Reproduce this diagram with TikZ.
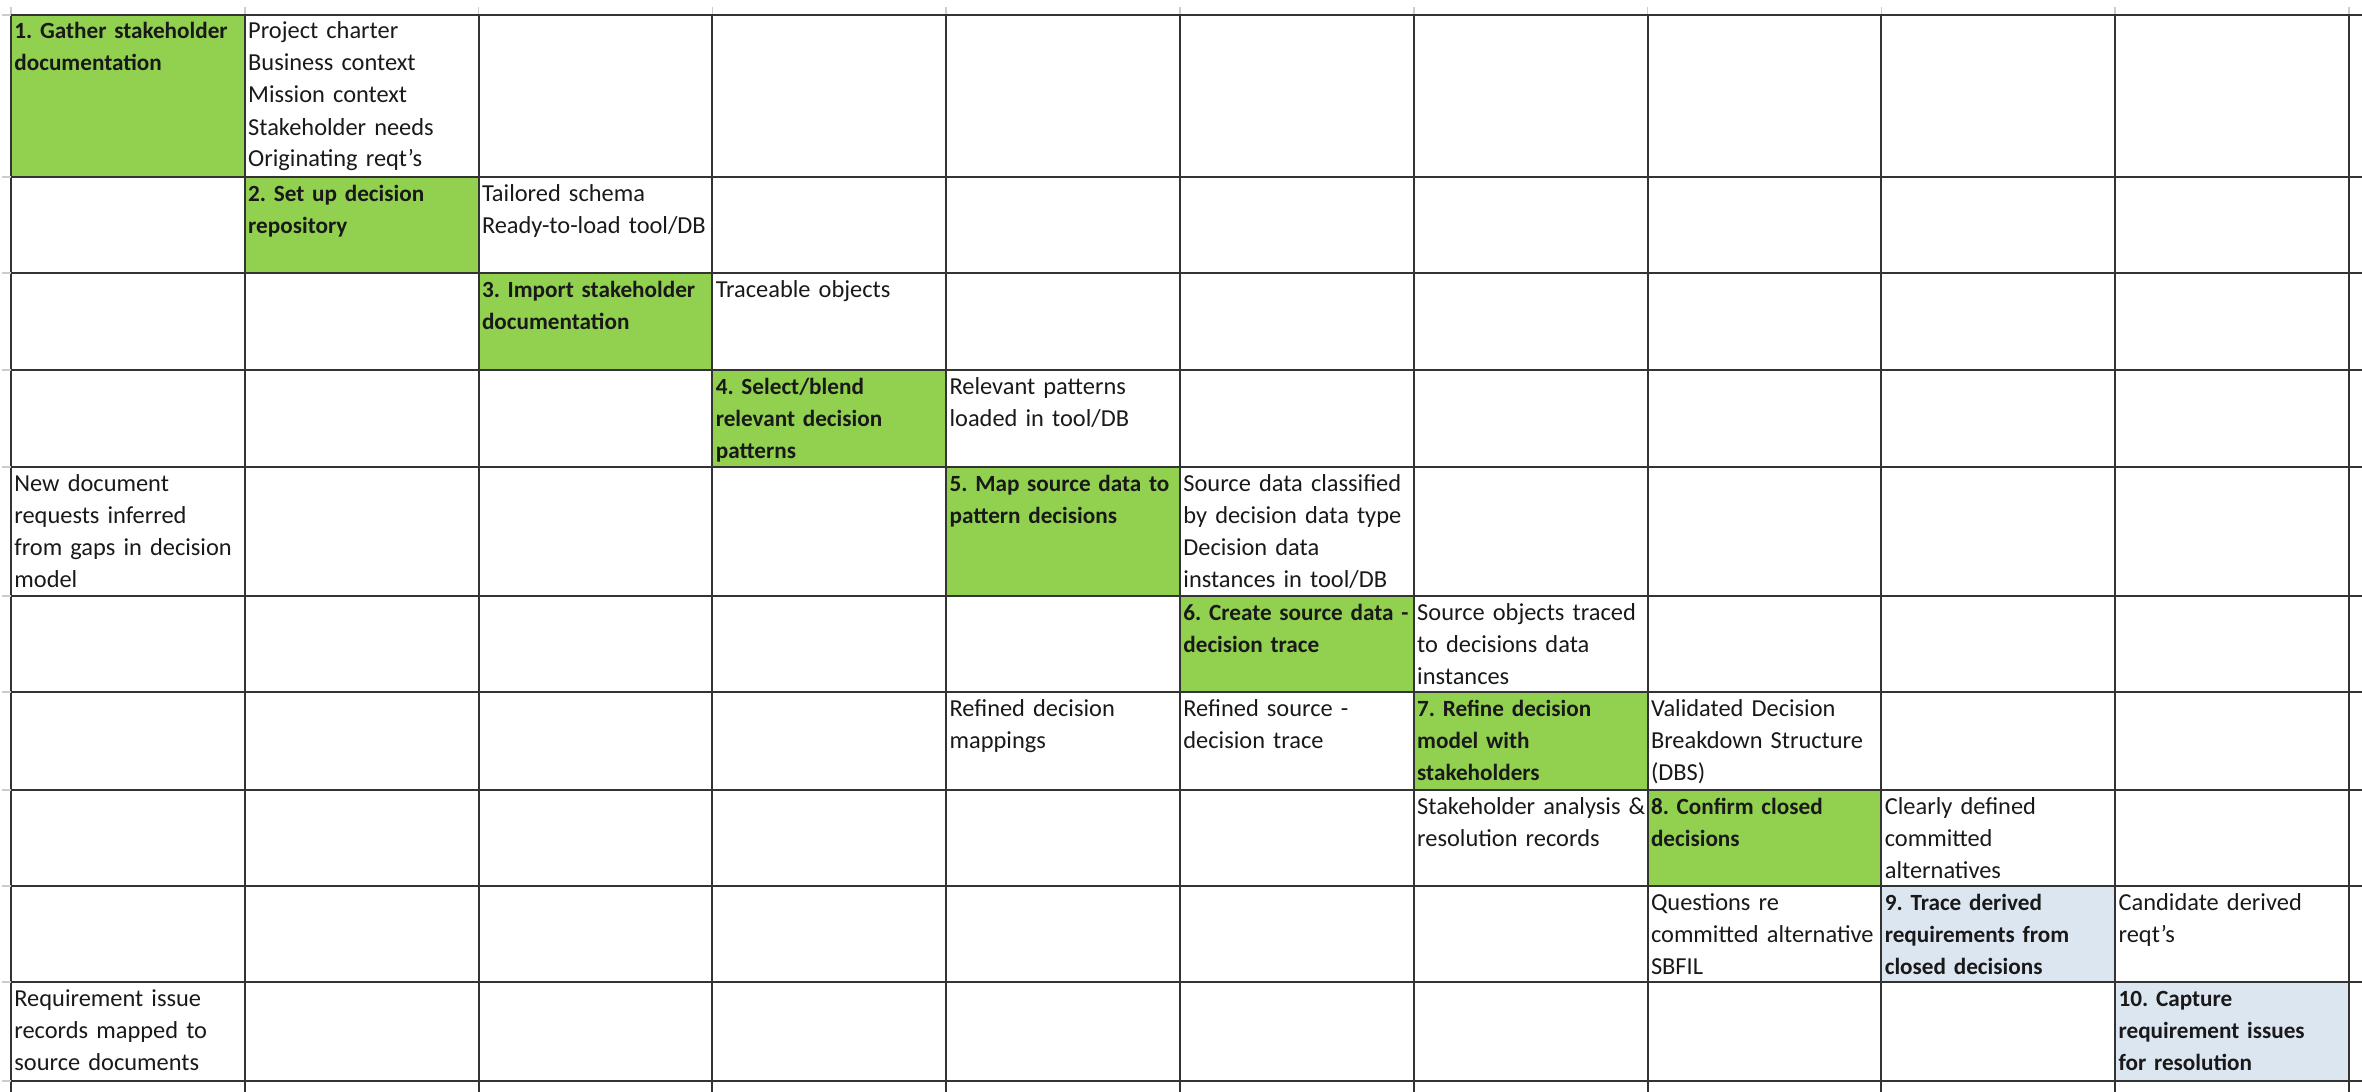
\documentclass[tikz,border=0pt]{standalone}
\usepackage{fontspec}
\setmainfont{Carlito}
\frenchspacing
\definecolor{stepgreen}{HTML}{92D050}
\definecolor{stepblue}{HTML}{DCE6F1}

\begin{document}
\begin{tikzpicture}[x=0.5pt,y=-0.5pt,
  gridline/.style={draw=black!80,line width=1pt},
  stub/.style={draw=black!20,line width=0.8pt},
  celltext/.style={anchor=base west,inner sep=0pt,xshift=1.5pt,yshift=-12pt,
    text width=130pt,align=left,text=black!90,font=\fontsize{12.2}{16}\selectfont},
  task/.style={celltext,font=\fontsize{11.6}{16}\selectfont\bfseries},
  result/.style={celltext}]
  \useasboundingbox (0,0) rectangle (2362,1092);
  % grid corners g<col>-<row>
  \foreach \c [evaluate=\c as \xc using {11+233.8*(\c-1)}] in {1,...,11}
    \foreach \yr [count=\r] in {15,177,273,370,467,596,692,790,886,982,1081}
      \coordinate (g\c-\r) at (\xc,\yr);
  % step cells on the diagonal
  \foreach \k [evaluate=\k as \n using int(\k+1)] in {1,...,8}
    \fill[stepgreen] (g\k-\k) rectangle (g\n-\n);
  \foreach \k [evaluate=\k as \n using int(\k+1)] in {9,10}
    \fill[stepblue] (g\k-\k) rectangle (g\n-\n);
  % sheet lines
  \foreach \c in {1,...,11} {
    \draw[stub] (g\c-1) -- ++(0,-8);
    \draw[gridline] (g\c-1) -- (g\c-11) -- ++(0,11);
  }
  \foreach \r in {1,...,11} {
    \draw[stub] (g1-\r) -- ++(-9,0);
    \draw[gridline] (g1-\r) -- (g11-\r) -- ++(14,0);
  }

  \node[task]   (gather)    at (g1-1) {1. Gather stakeholder\\documentation};
  \node[result] (charter)   at (g2-1) {Project charter\\Business context\\Mission context\\Stakeholder needs\\Originating reqt's};
  \node[task]   (setup)     at (g2-2) {2. Set up decision\\repository};
  \node[result] (schema)    at (g3-2) {Tailored schema\\Ready-to-load tool/DB};
  \node[task]   (import)    at (g3-3) {3. Import stakeholder\\documentation};
  \node[result] (traceable) at (g4-3) {Traceable objects};
  \node[task]   (select)    at (g4-4) {4. Select/blend\\relevant decision\\patterns};
  \node[result] (patterns)  at (g5-4) {Relevant patterns\\loaded in tool/DB};
  \node[result] (newdocs)   at (g1-5) {New document\\requests inferred\\from gaps in decision\\model};
  \node[task]   (mapsrc)    at (g5-5) {5. Map source data to\\pattern decisions};
  \node[result] (classified) at (g6-5) {Source data classified\\by decision data type\\Decision data\\instances in tool/DB};
  \node[task]   (trace)     at (g6-6) {6. Create source data -\\decision trace};
  \node[result] (traced)    at (g7-6) {Source objects traced\\to decisions data\\instances};
  \node[result] (refmap)    at (g5-7) {Refined decision\\mappings};
  \node[result] (reftrace)  at (g6-7) {Refined source -\\decision trace};
  \node[task]   (refine)    at (g7-7) {7. Refine decision\\model with\\stakeholders};
  \node[result] (dbs)       at (g8-7) {Validated Decision\\Breakdown Structure\\(DBS)};
  \node[result] (analysis)  at (g7-8) {Stakeholder analysis \&\\resolution records};
  \node[task]   (confirm)   at (g8-8) {8. Confirm closed\\decisions};
  \node[result] (committed) at (g9-8) {Clearly defined\\committed\\alternatives};
  \node[result] (questions) at (g8-9) {Questions re\\committed alternative\\SBFIL};
  \node[task]   (derive)    at (g9-9) {9. Trace derived\\requirements from\\closed decisions};
  \node[result] (candidate) at (g10-9) {Candidate derived\\reqt's};
  \node[result] (issuerec)  at (g1-10) {Requirement issue\\records mapped to\\source documents};
  \node[task]   (capture)   at (g10-10) {10. Capture\\requirement issues\\for resolution};
\end{tikzpicture}
\end{document}
